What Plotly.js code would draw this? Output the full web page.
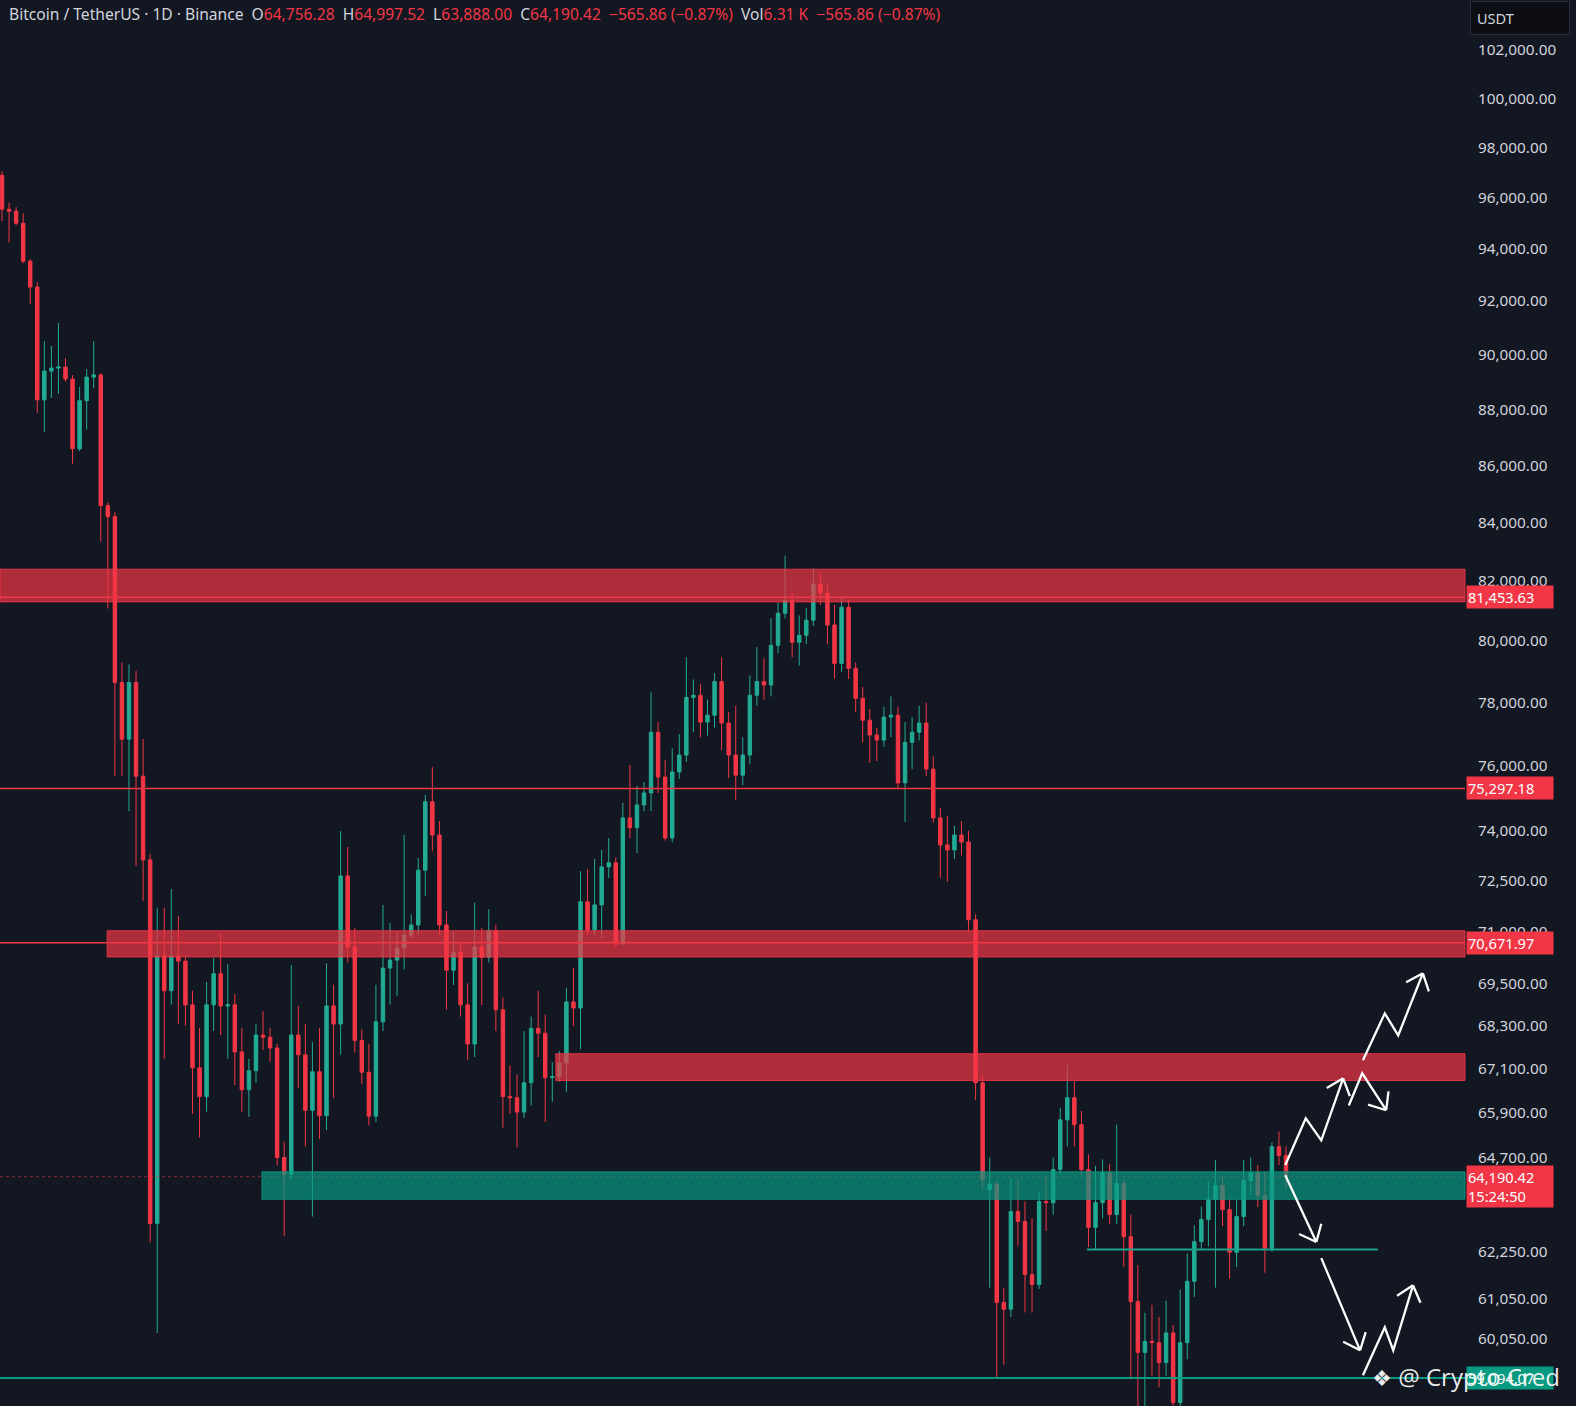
<!DOCTYPE html>
<html><head><meta charset="utf-8">
<script src="https://cdn.plot.ly/plotly-3.0.1.min.js"></script>
<style>html,body{margin:0;padding:0;background:#131722;}#chart{width:1576px;height:1406px;}</style>
</head><body><div id="chart"></div>
<script>
// ---- Data: daily BTC/USDT candles ----
const opens = [96880,95540,95460,94990,93520,92530,88340,89390,89500,89540,89100,86580,88310,89170,89250,84580,84200,78650,76840,78650,75680,73120,62970,70290,69290,70290,70140,68890,67130,66340,68890,69780,68860,68890,67570,66530,67050,68040,67980,67680,64700,64250,68040,67490,65970,67020,65820,68860,68350,72640,70550,67890,67010,65810,68410,69940,70170,70520,70900,71190,72810,74890,73870,71190,69880,70400,68890,67790,70550,70250,71030,68750,66340,66310,65920,66720,68230,68090,66860,66890,67270,68970,68800,71870,71040,71780,72910,73030,70640,74390,74090,74790,75160,77060,75650,73780,75810,76340,78170,78240,77380,77600,78680,77350,76340,75710,76340,78240,78680,78570,79860,80920,81350,79960,80190,80690,81900,81600,80530,79270,81120,79110,78140,77440,76970,76810,77540,77600,75470,76740,77060,77350,75900,74390,73570,73420,73870,73660,71340,66720,63850,64000,60960,60790,63280,63020,61660,61410,63540,63510,64380,65710,66310,65580,64380,62870,63510,64300,63200,64010,62630,60980,59720,59990,59960,59470,60200,58500,59960,61490,62500,63070,63590,63960,63330,62230,63150,64090,64300,63700,62330,64990,64756.28];
const highs = [97040,95800,95620,95380,93600,92720,90500,90320,91180,89870,89240,88810,89460,90500,89320,84700,84350,79300,79240,79030,76840,73300,71700,71700,72250,71450,70250,69290,68240,69540,70230,70930,70050,69200,68240,67380,68350,68710,68240,67800,65120,70030,68860,68350,67840,68240,70080,69460,73990,73510,71100,68200,67800,69460,71780,71250,71000,73870,71500,73180,75100,75960,74300,71600,71000,70700,69500,71850,71100,71650,71200,69100,67200,66950,68150,68560,69290,68610,67290,67600,69380,69940,72780,72840,73150,73420,73780,73200,74850,76030,75380,75500,78330,77380,76180,76550,77000,79470,78750,78600,78100,78950,79470,77700,77900,76900,78880,79800,79440,80760,81280,82860,81600,80850,81100,82420,82300,81900,81200,81450,81380,79300,78500,77800,77200,77870,78200,77870,77380,77540,77900,78000,76300,74700,74450,74150,74300,74000,71500,66950,64700,64100,61330,64140,64140,63540,63100,63800,64220,64700,66040,67220,66800,65950,64780,64480,64650,64520,65580,64120,63200,61900,60700,60900,60600,61000,60400,61280,62200,62920,63410,64060,64640,64220,63600,63600,64640,64700,64500,64320,65100,65400,64997.52];
const lows = [95070,94250,94910,93440,91890,87870,87190,88410,88560,89000,86050,86500,87260,88770,83340,81080,75680,75680,74600,72940,71900,62480,60200,67380,68900,68350,68300,65870,65230,65930,68150,68040,67380,66660,65930,65790,66720,67620,67300,64490,62640,64100,66580,64990,63150,65200,65430,66310,67500,70100,67550,66680,65560,65650,68150,68900,69150,69900,70800,70900,72050,73380,70900,68750,69460,68560,67350,67430,68890,70100,68150,65500,65870,64970,65760,66100,67430,65650,66200,66750,66470,68300,67650,70900,70900,70800,72580,70550,70600,73780,73330,74600,74600,75160,73700,73650,75590,76120,77060,76900,76950,77200,76500,75620,74940,75400,76050,77900,78100,78200,79600,80750,79470,79200,79900,80500,81200,79900,78780,79000,78760,77700,76740,76090,76150,76600,76900,75300,74270,75900,76800,75680,74250,72580,72460,73150,73250,71000,66250,63850,61330,59100,59420,60600,62400,60710,60710,61300,62780,63200,64250,65000,65000,64250,62360,62300,63100,62950,62950,61860,59060,58200,58300,59150,58870,59150,58000,58300,59550,61100,62300,62380,61330,62900,61560,61850,62900,63700,63400,61710,62250,64500,63888.00];
const closes = [95540,95460,94990,93520,92530,88340,89390,89500,89540,89100,86580,88310,89170,89250,84580,84200,78650,76840,78650,75680,73120,62970,70290,69290,70290,70140,68890,67130,66340,68890,69780,68860,68890,67570,66530,67050,68040,67980,67680,64700,64250,68040,67490,65970,67020,65820,68860,68350,72640,70550,67890,67010,65810,68410,69940,70170,70520,70900,71190,72810,74890,73870,71190,69880,70400,68890,67790,70550,70250,71030,68750,66340,66310,65920,66720,68230,68090,66860,66890,67270,68970,68800,71870,71040,71780,72910,73030,70640,74390,74090,74790,75160,77060,75650,73780,75810,76340,78170,78240,77380,77600,78680,77350,76340,75710,76340,78240,78680,78570,79860,80920,81350,79960,80190,80690,81900,81600,80530,79270,81120,79110,78140,77440,76970,76810,77540,77600,75470,76740,77060,77350,75900,74390,73570,73420,73870,73660,71340,66720,64110,64000,60960,60790,63280,63020,61660,61410,63540,63510,64380,65710,66310,65580,64380,62870,63510,64300,63200,64010,62630,60980,59720,59990,59960,59470,60200,58500,59960,61490,62500,63070,63590,63960,63330,62230,63150,64090,64300,63700,62330,64990,64756.28,64190.42];

// price axis tick labels
const tickValues = [102000,100000,98000,96000,94000,92000,90000,88000,86000,84000,82000,80000,78000,76000,74000,72500,71000,69500,68300,67100,65900,64700,62250,61050,60050];

// drawn levels (prices)
const resistanceZones = [
  {fromBar: null, top: 82400, bottom: 81300},
  {fromBar: 14.9, top: 71020, bottom: 70260},
  {fromBar: 78.5, top: 67520, bottom: 66780}
];
const supportZone = {fromBar: 36.85, top: 64320, bottom: 63600};
const redLevels = [81453.63, 75297.18, 70671.97];
const lastPrice = 64190.42;
const countdown = '15:24:50';
const greenLevel = 59094.07;
const localSupport = {fromBar: 153.8, toBar: 195.0, price: 62300};

// projected paths drawn on the chart: [bar index, price]
const paths = [
  [[181.9,64500],[184.8,65750],[187.0,65160],[190.1,66840]],
  [[190.9,66100],[192.8,66980],[196.2,65970]],
  [[192.9,67340],[196.0,68650],[197.9,68030],[201.4,69790]],
  [[181.9,64230],[186.3,62490]],
  [[187.0,62080],[192.5,59770]],
  [[192.9,59160],[196.0,60340],[197.2,59770],[200.0,61390]]
];

const header = {
  name: 'Bitcoin / TetherUS · 1D · Binance',
  o: '64,756.28', h: '64,997.52', l: '63,888.00', c: '64,190.42',
  chg: '−565.86 (−0.87%)', vol: '6.31 K'
};

// ---- Layout helpers ----
const BG = '#131722', UP = '#22ab94', DOWN = '#f23645', TXT = '#d1d4dc';
const W = 1465, H = 1406;
const XR = [-0.283, 207.37];
const YR = [4.76655, 5.01753];
const px = i => (i - XR[0]) / (XR[1] - XR[0]);
const py = p => (Math.log10(p) - YR[0]) / (YR[1] - YR[0]);
const fmt = v => v.toLocaleString('en-US', {minimumFractionDigits: 2, maximumFractionDigits: 2});
const FONT = 'Noto Sans, DejaVu Sans, sans-serif';

const shapes = [];
shapes.push({type:'line', xref:'paper', yref:'paper', x0:0, x1:1, y0:py(lastPrice), y1:py(lastPrice),
  line:{color:'rgba(242,54,69,0.55)', width:1, dash:'dot'}});
resistanceZones.forEach(z => shapes.push({type:'rect', xref:'paper', yref:'paper',
  x0: z.fromBar === null ? 0 : px(z.fromBar), x1: 1, y0: py(z.bottom), y1: py(z.top),
  fillcolor:'rgba(242,54,69,0.70)', line:{color:'rgba(242,54,69,0.85)', width:1}}));
shapes.push({type:'rect', xref:'paper', yref:'paper', x0:px(supportZone.fromBar), x1:1,
  y0:py(supportZone.bottom), y1:py(supportZone.top),
  fillcolor:'rgba(8,153,129,0.70)', line:{color:'rgba(8,153,129,0.85)', width:1}});
redLevels.forEach(v => shapes.push({type:'line', xref:'paper', yref:'paper', x0:0, x1:1, y0:py(v), y1:py(v),
  line:{color:'#f23645', width:1.5}}));
shapes.push({type:'line', xref:'paper', yref:'paper', x0:0, x1:1, y0:py(greenLevel), y1:py(greenLevel),
  line:{color:'#089981', width:2}});
shapes.push({type:'line', xref:'paper', yref:'paper', x0:px(localSupport.fromBar), x1:px(localSupport.toBar),
  y0:py(localSupport.price), y1:py(localSupport.price), line:{color:'#1aa28c', width:2}});

function pathString(pts) {
  const P = pts.map(([i, p]) => [px(i) * W, (1 - py(p)) * H]);
  const s = q => (q[0] / W).toFixed(5) + ',' + (1 - q[1] / H).toFixed(5);
  let d = 'M' + P.map(s).join(' L');
  const a = P[P.length - 2], b = P[P.length - 1];
  const dx = a[0] - b[0], dy = a[1] - b[1], L = Math.hypot(dx, dy);
  const ux = dx / L, uy = dy / L, len = 19, ang = 40 * Math.PI / 180;
  [1, -1].forEach(sg => {
    const c = Math.cos(ang), sn = Math.sin(sg * ang);
    const wx = ux * c - uy * sn, wy = ux * sn + uy * c;
    d += ' M' + s(b) + ' L' + s([b[0] + wx * len, b[1] + wy * len]);
  });
  return d;
}
paths.forEach(p => shapes.push({type:'path', xref:'paper', yref:'paper', path: pathString(p),
  line:{color:'#ffffff', width:2.3}}));

const annotations = [];
const R = '#f23645';
const sp = '\u00a0';
const hdr = header.name + sp + sp +
  'O<span style="color:'+R+'">' + header.o + '</span>' + sp + sp +
  'H<span style="color:'+R+'">' + header.h + '</span>' + sp + sp +
  'L<span style="color:'+R+'">' + header.l + '</span>' + sp + sp +
  'C<span style="color:'+R+'">' + header.c + '</span>' + sp + sp +
  '<span style="color:'+R+'">' + header.chg + '</span>' + sp + sp +
  'Vol<span style="color:'+R+'">' + header.vol + '</span>' + sp + sp +
  '<span style="color:'+R+'">' + header.chg + '</span>';
annotations.push({xref:'paper', yref:'paper', x: 7 / W, y: 1 - 14 / H, xanchor:'left', yanchor:'middle',
  text: hdr, showarrow:false, font:{family:FONT, size:15.6, color:TXT}});
annotations.push({xref:'paper', yref:'paper', x: 1470 / W, y: 1 - 1 / H, xanchor:'left', yanchor:'top',
  text:'USDT', showarrow:false, align:'left', width:86, borderpad:6, bgcolor:'#0c0e14',
  bordercolor:'#2a2e39', borderwidth:1, font:{family:FONT, size:14.5, color:TXT}});
function priceBox(v, bg, text, yshift) {
  annotations.push({xref:'paper', yref:'paper', x: 1466 / W, y: py(v), xanchor:'left', yanchor:'middle',
    yshift: yshift || 0, text: text, showarrow:false, align:'left', width:84, borderpad:1, bgcolor:bg,
    font:{family:FONT, size:14.6, color:'#ffffff'}});
}
redLevels.forEach(v => priceBox(v, R, fmt(v)));
priceBox(lastPrice, R, fmt(lastPrice) + '<br>' + countdown, -10);
priceBox(greenLevel, '#089981', fmt(greenLevel));
annotations.push({xref:'paper', yref:'paper', x: 1370 / W, y: 1 - 1376 / H, xanchor:'left', yanchor:'middle',
  text:'<span style="font-size:22px">❖</span> @ Crypto Cred', showarrow:false,
  font:{family:'Open Sans, Noto Sans, sans-serif', size:24, color:'rgba(255,255,255,0.92)'}});

const trace = {
  type:'candlestick', x: opens.map((_, i) => i), open: opens, high: highs, low: lows, close: closes,
  increasing:{line:{color:UP, width:1}, fillcolor:UP},
  decreasing:{line:{color:DOWN, width:1}, fillcolor:DOWN},
  whiskerwidth:0, hoverinfo:'skip'
};

const layout = {
  width:1576, height:1406, margin:{l:0, r:111, t:0, b:0},
  paper_bgcolor:BG, plot_bgcolor:BG, showlegend:false,
  xaxis:{range:XR, visible:false, rangeslider:{visible:false}, fixedrange:true},
  yaxis:{type:'log', range:YR, side:'right', tickmode:'array', tickvals:tickValues,
    ticktext:tickValues.map(fmt), tickfont:{family:FONT, size:15.3, color:TXT},
    showgrid:false, zeroline:false, showline:false, ticks:'', ticklabelstandoff:12, fixedrange:true},
  shapes: shapes, annotations: annotations
};

Plotly.newPlot('chart', [trace], layout, {staticPlot:true, displayModeBar:false});
</script>
</body></html>
